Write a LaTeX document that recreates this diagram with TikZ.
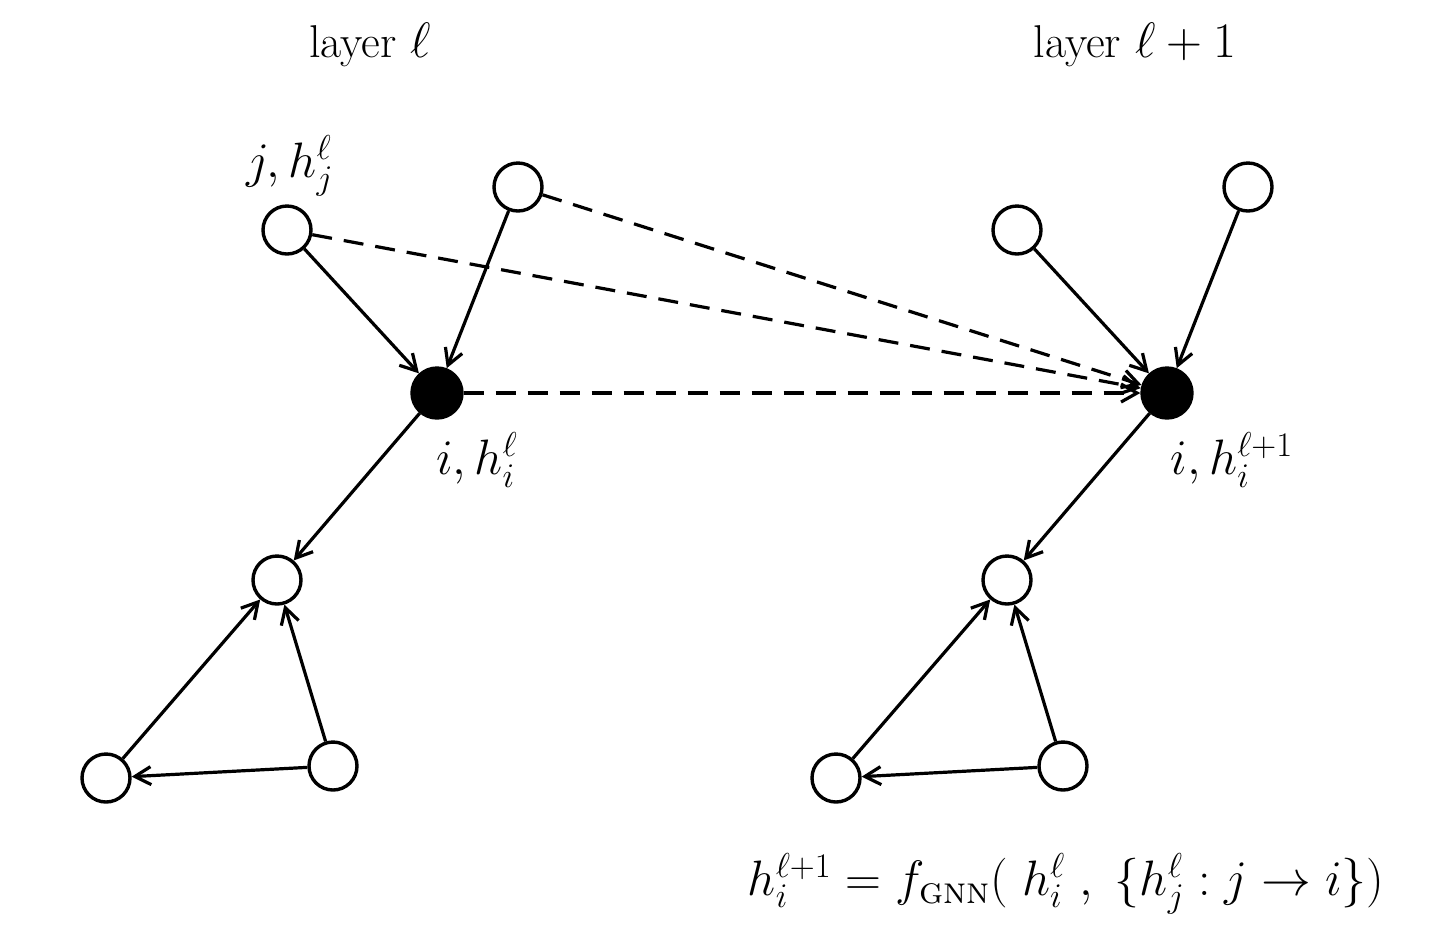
\documentclass[tikz,border=0pt]{standalone}
\usetikzlibrary{arrows.meta}
\begin{document}
\begin{tikzpicture}[x=0.5pt,y=-0.5pt,
  v/.style={circle,draw,line width=1.7pt,minimum size=24pt,inner sep=0pt},
  b/.style={circle,fill=black,draw,line width=1.7pt,minimum size=25pt,inner sep=0pt},
  e/.style={line width=1.6pt,-{Straight Barb[length=8pt,width=9pt,line width=1.6pt]}},
  d/.style={e,dash pattern=on 10pt off 6pt},
  t/.style={font=\fontsize{23}{27}\selectfont}]
\useasboundingbox (0,0) rectangle (1440,934);
\foreach \s/\dx in {L/0,R/730}{
  \node[v] (\s j) at (287+\dx,230) {};
  \node[v] (\s t) at (518+\dx,187) {};
  \node[b] (\s i) at (437+\dx,393) {};
  \node[v] (\s b) at (277+\dx,580) {};
  \node[v] (\s l) at (106+\dx,778) {};
  \node[v] (\s r) at (333+\dx,766) {};
  \draw[e] (\s j) -- (\s i);
  \draw[e] (\s t) -- (\s i);
  \draw[e] (\s i) -- (\s b);
  \draw[e] (\s l) -- (\s b);
  \draw[e] (\s r) -- (\s b);
  \draw[e] (\s r) -- (\s l);
}
\draw[d] (Lj) -- (Ri);
\draw[d] (Lt) -- (Ri);
\draw[d] (Li) -- (Ri);
\node[t] (tl) at (370,45) {layer $\ell$};
\node[t] (tr) at (1135,45) {layer $\ell+1$};
\node[t] (lj) at (290,166) {$j,h_j^\ell$};
\node[t] (li) at (477,460) {$i,h_i^\ell$};
\node[t] (ri) at (1232,460) {$i,h_i^{\ell+1}$};
\node[font=\fontsize{27}{31}\selectfont] (f) at (1066,884) {$h_i^{\ell+1}=f_{\scalebox{0.7}{\textsc{gnn}}}\Bigl(\;h_i^\ell\;,\;\{h_j^\ell : j\to i\}\Bigr)$};
\end{tikzpicture}
\end{document}
